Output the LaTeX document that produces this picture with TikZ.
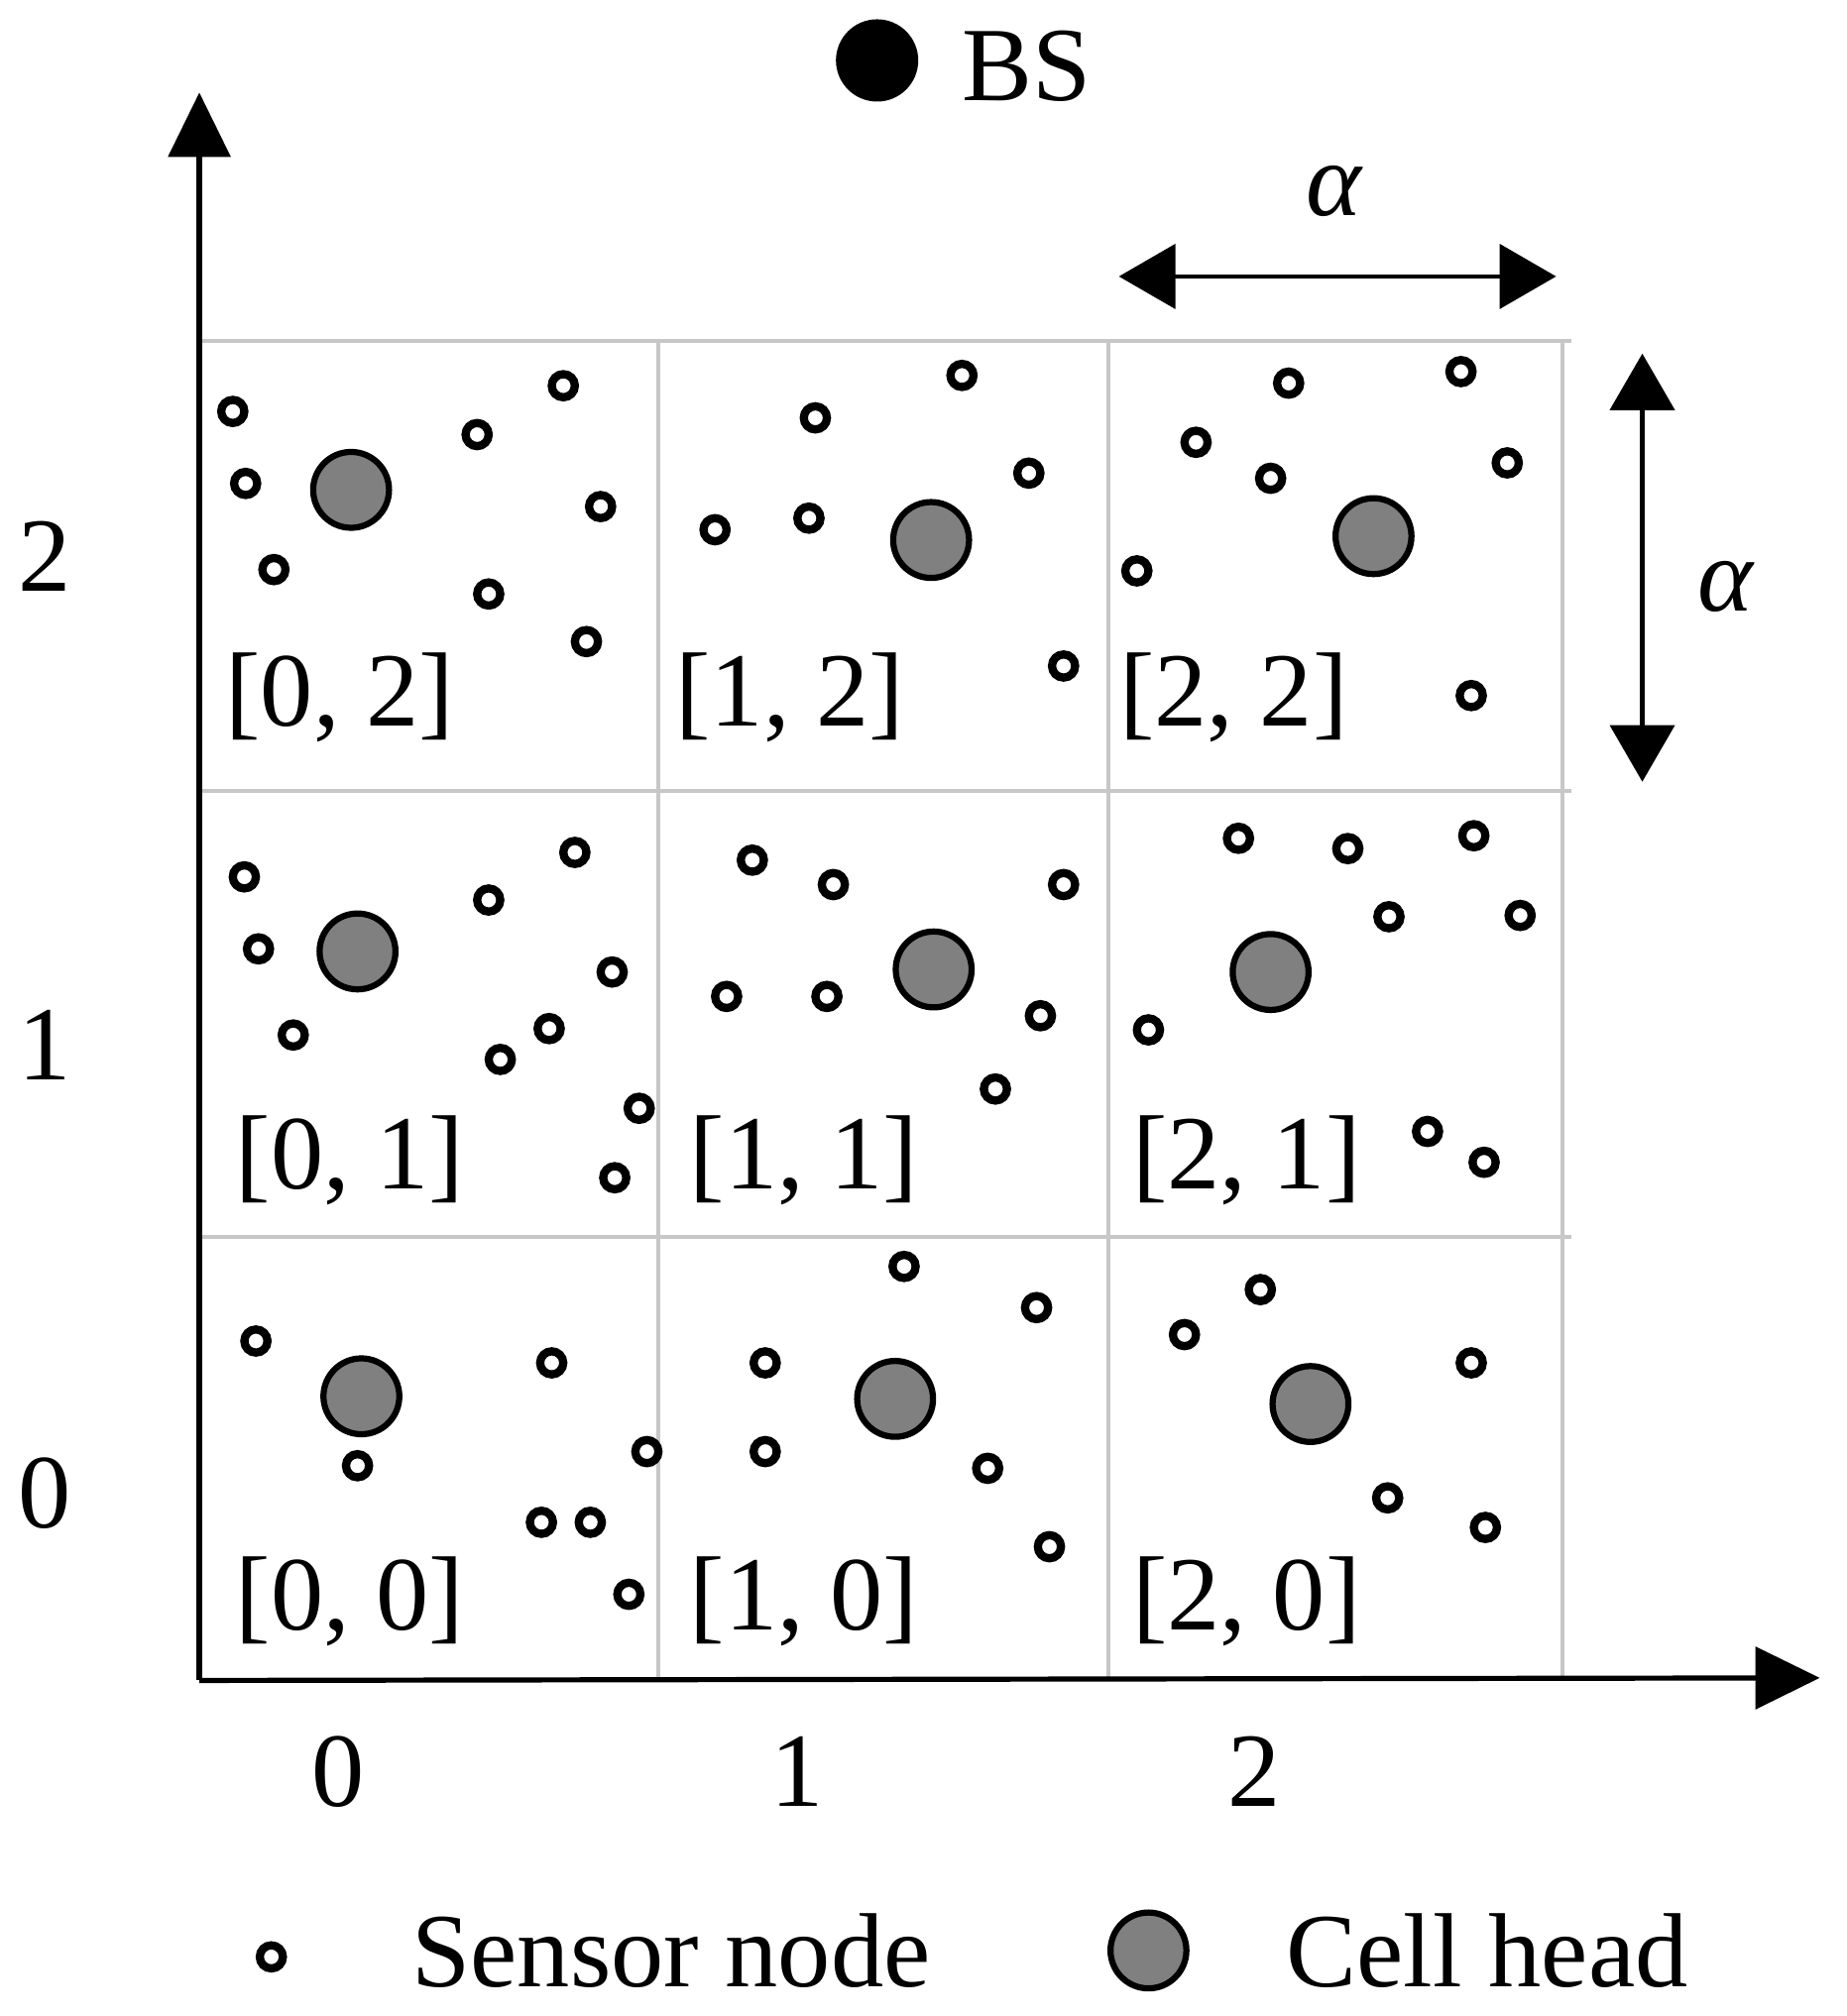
\documentclass[tikz,border=0pt]{standalone}
\usepackage{fontspec}
\setmainfont{Liberation Serif}
\usetikzlibrary{arrows.meta}
\tikzset{
  sensor/.style={circle,draw=black,fill=white,line width=3.2pt,minimum size=9pt,inner sep=0pt},
  head/.style={circle,draw=black,fill=black!50,line width=2.4pt,minimum size=29.5pt,inner sep=0pt},
  bsdot/.style={circle,fill=black,minimum size=32pt,inner sep=0pt},
  gridline/.style={draw=black!22,line width=1.6pt},
  axisline/.style={line width=2pt,-{Triangle[length=25pt,width=24pt]}},
  dimline/.style={line width=1.8pt,{Triangle[length=22pt,width=25pt]}-{Triangle[length=22pt,width=25pt]}},
  lbl/.style={font=\fontsize{41}{45}\selectfont,inner sep=0pt},
}
\begin{document}
\begin{tikzpicture}[x=0.5pt,y=-0.5pt]
\useasboundingbox (0,0) rectangle (1436,1568);
% grid
\foreach \x/\n in {512/a,862/b,1215/c}{
  \coordinate (vt\n) at (\x,265);
  \coordinate (vb\n) at (\x,1305);
  \draw[gridline] (vt\n) -- (vb\n);
}
\foreach \y/\n in {265/a,615/b,962/c}{
  \coordinate (hl\n) at (155,\y);
  \coordinate (hr\n) at (1222,\y);
  \draw[gridline] (hl\n) -- (hr\n);
}
% axes
\coordinate (origin) at (155,1307);
\coordinate (ytip) at (155,72);
\coordinate (xtip) at (1415,1305);
\draw[axisline] (origin) -- (ytip);
\draw[axisline] (origin) -- (xtip);
% BS
\node[bsdot] (bs) at (682,47) {};
\node[lbl,anchor=base west] (bslabel) at (748,78) {BS};
% dimension arrows
\coordinate (ha) at (870,215);
\coordinate (hb) at (1210,215);
\draw[dimline] (ha) -- (hb);
\node[lbl,anchor=base] (alphaH) at (1037,168) {\itshape α};
\coordinate (va) at (1277,275);
\coordinate (vb) at (1277,608);
\draw[dimline] (va) -- (vb);
\node[lbl,anchor=base] (alphaV) at (1342,475) {\itshape α};
% axis labels
\node[lbl,anchor=base] (r2) at (35,460) {2};
\node[lbl,anchor=base] (r1) at (35,840) {1};
\node[lbl,anchor=base] (r0) at (35,1188) {0};
\node[lbl,anchor=base] (c0) at (263,1405) {0};
\node[lbl,anchor=base] (c1) at (620,1405) {1};
\node[lbl,anchor=base] (c2) at (975,1405) {2};
% cell labels
\node[lbl,anchor=base west] (l02) at (175,565) {[0, 2]};
\node[lbl,anchor=base west] (l12) at (525,565) {[1, 2]};
\node[lbl,anchor=base west] (l22) at (870,565) {[2, 2]};
\node[lbl,anchor=base west] (l01) at (183,925) {[0, 1]};
\node[lbl,anchor=base west] (l11) at (536,925) {[1, 1]};
\node[lbl,anchor=base west] (l21) at (880,925) {[2, 1]};
\node[lbl,anchor=base west] (l00) at (183,1268) {[0, 0]};
\node[lbl,anchor=base west] (l10) at (536,1268) {[1, 0]};
\node[lbl,anchor=base west] (l20) at (880,1268) {[2, 0]};
% cell heads
\foreach \x/\y [count=\i] in {273/381,724/420,1068/417,278/740,726/754,988/756,281/1086,696/1088,1019/1092}
  \node[head] (h\i) at (\x,\y) {};
% sensor nodes
\foreach \x/\y [count=\i] in {
  181/320,191/376,213/443,371/338,438/300,467/394,380/462,456/499,
  634/325,748/292,800/368,556/412,629/403,827/518,
  1002/298,1136/289,930/344,988/372,1172/360,884/444,1144/541,
  190/682,201/738,228/805,380/700,447/663,476/756,427/800,389/824,497/862,478/916,
  585/669,648/688,827/688,565/775,643/775,809/790,774/847,
  963/652,1048/660,1146/650,1080/713,1182/712,893/801,1110/880,1154/904,
  199/1043,278/1140,429/1060,503/1129,421/1184,459/1184,489/1240,
  703/985,806/1017,595/1060,595/1129,768/1142,816/1203,
  980/1003,921/1038,1144/1060,1079/1165,1155/1188}
  \node[sensor] (s\i) at (\x,\y) {};
% legend
\node[sensor] (legS) at (211,1522) {};
\node[lbl,anchor=base west] (legStext) at (320,1545) {Sensor node};
\node[head] (legH) at (893,1517) {};
\node[lbl,anchor=base west] (legHtext) at (1000,1545) {Cell head};
\end{tikzpicture}
\end{document}
